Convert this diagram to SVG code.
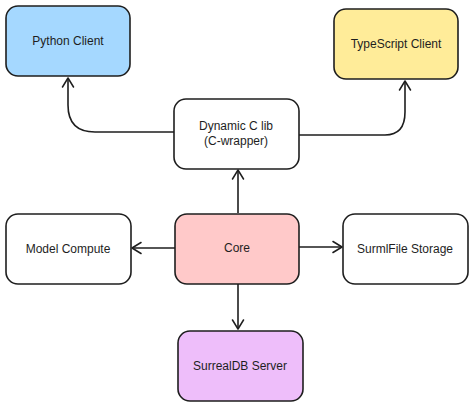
<svg xmlns="http://www.w3.org/2000/svg" width="474" height="407" viewBox="0 0 474 407">
<defs>
<marker id="ah" markerWidth="14" markerHeight="14" refX="10" refY="7" orient="auto" markerUnits="userSpaceOnUse">
<path d="M1,1.5 L10,7 L1,12.5" fill="none" stroke="#1e1e1e" stroke-width="1.5" stroke-linecap="round" stroke-linejoin="round"/>
</marker>
<style>
.box{stroke:#1e1e1e;stroke-width:1.6}
.lbl{font-family:"Comic Sans MS","Liberation Sans",sans-serif;font-size:12px;fill:#1e1e1e;text-anchor:middle;dominant-baseline:central}
.edge{fill:none;stroke:#1e1e1e;stroke-width:1.6;marker-end:url(#ah)}
</style>
</defs>
<rect width="474" height="407" fill="#ffffff"/>
<g id="connectors">
<path class="edge" d="M238,213 L238,170"/>
<path class="edge" d="M174,132 L95,132 Q68,132 68,105 L68,78"/>
<path class="edge" d="M299,135 L385,135 Q405,135 405,112 L405,81"/>
<path class="edge" d="M175,248 L132,248"/>
<path class="edge" d="M299,247 L342,247"/>
<path class="edge" d="M238,284 L238,329"/>
</g>
<g id="python-client">
<rect class="box" x="6" y="6" width="124" height="70" rx="12" fill="#a5d8ff"/>
<text class="lbl" x="68" y="41">Python Client</text>
</g>
<g id="typescript-client">
<rect class="box" x="334" y="9" width="124" height="70" rx="12" fill="#ffec99"/>
<text class="lbl" x="396" y="44">TypeScript Client</text>
</g>
<g id="dynamic-c-lib">
<rect class="box" x="174" y="99" width="125" height="70" rx="12" fill="#ffffff"/>
<text class="lbl" x="236" y="126">Dynamic C lib</text>
<text class="lbl" x="236" y="141">(C-wrapper)</text>
</g>
<g id="core">
<rect class="box" x="175" y="214" width="124" height="70" rx="12" fill="#ffc9c9"/>
<text class="lbl" x="237" y="248">Core</text>
</g>
<g id="model-compute">
<rect class="box" x="6" y="214" width="125" height="70" rx="12" fill="#ffffff"/>
<text class="lbl" x="68" y="249">Model Compute</text>
</g>
<g id="surmlfile-storage">
<rect class="box" x="343" y="214" width="125" height="70" rx="12" fill="#ffffff"/>
<text class="lbl" x="405" y="249">SurmlFile Storage</text>
</g>
<g id="surrealdb-server">
<rect class="box" x="178" y="331" width="125" height="70" rx="12" fill="#eebefa"/>
<text class="lbl" x="240" y="366">SurrealDB Server</text>
</g>
</svg>
